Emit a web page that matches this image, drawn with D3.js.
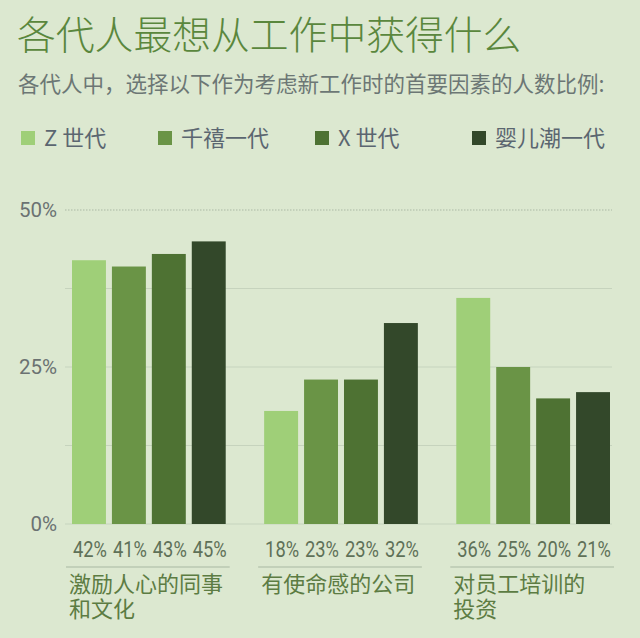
<!DOCTYPE html>
<html>
<head>
<meta charset="utf-8">
<script src="https://cdn.jsdelivr.net/npm/d3@7"></script>
<style>
  body { margin: 0; background: #dce8d0; }
  svg { display: block; font-family: "Noto Sans CJK SC", "Noto Sans", sans-serif; }
</style>
</head>
<body>
<svg id="chart" width="640" height="638"></svg>
<script>
// 数据
const categories = [["激励人心的同事", "和文化"], ["有使命感的公司"], ["对员工培训的", "投资"]];
const generations = ["Z 世代", "千禧一代", "X 世代", "婴儿潮一代"];
const genZ = [42, 18, 36];
const millennials = [41, 23, 25];
const genX = [43, 23, 20];
const boomers = [45, 32, 21];
const yTicks = [0, 25, 50];
const gridTicks = [0, 12.5, 25, 37.5, 50];

const seriesValues = [genZ, millennials, genX, boomers];
const colors = ["#9fcf78", "#6a9446", "#4e7233", "#33482a"];

const svg = d3.select("#chart");
svg.append("rect").attr("width", 640).attr("height", 638).attr("fill", "#dce8d0");

// 标题
svg.append("text")
  .attr("x", 17).attr("y", 49)
  .attr("font-size", 38.8)
  .attr("fill", "#5a873d")
  .attr("font-weight", 300)
  .text("各代人最想从工作中获得什么");

svg.append("text")
  .attr("x", 18).attr("y", 92)
  .attr("font-size", 21.5)
  .attr("fill", "#6c7775")
  .text("各代人中，选择以下作为考虑新工作时的首要因素的人数比例:");

// 图例
const legendX = [21, 158, 315, 472];
const legend = svg.append("g");
generations.forEach(function(g, i) {
  legend.append("rect")
    .attr("x", legendX[i]).attr("y", 131)
    .attr("width", 14).attr("height", 14)
    .attr("fill", colors[i]);
  legend.append("text")
    .attr("x", legendX[i] + 23).attr("y", 146)
    .attr("font-size", 22)
    .attr("fill", "#5b6670")
    .text(g);
});

// 坐标轴
const y = d3.scaleLinear().domain([0, 50]).range([524, 210]);

const catKeys = categories.map(d => d.join(""));
const x0 = d3.scaleBand().domain(catKeys).range([72, 610]).paddingInner(0.2);
const x1 = d3.scaleBand().domain(d3.range(generations.length)).range([0, x0.bandwidth()]).paddingInner(0.15);

const grid = svg.append("g");
gridTicks.forEach(function(t) {
  grid.append("line")
    .attr("x1", 65).attr("x2", 612)
    .attr("y1", y(t)).attr("y2", y(t))
    .attr("stroke", t === 50 ? "#aab8a4" : "#c6d3bd")
    .attr("stroke-width", t === 50 ? 1 : 1.2)
    .attr("stroke-dasharray", t === 50 ? "1.5,1.5" : null);
});

svg.append("g")
  .selectAll("text")
  .data(yTicks)
  .join("text")
  .attr("x", 57)
  .attr("y", d => y(d) + 2)
  .attr("text-anchor", "end")
  .attr("dominant-baseline", "middle")
  .attr("font-family", "Roboto, 'Liberation Sans', sans-serif")
  .attr("font-size", 20.5)
  .attr("fill", "#6b7272")
  .text(d => d + "%");

// 柱子
const bars = [];
catKeys.forEach(function(c, ci) {
  seriesValues.forEach(function(s, si) {
    bars.push({ cat: c, series: si, value: s[ci] });
  });
});

svg.append("g")
  .selectAll("rect")
  .data(bars)
  .join("rect")
  .attr("x", d => x0(d.cat) + x1(d.series))
  .attr("y", d => y(d.value))
  .attr("width", x1.bandwidth())
  .attr("height", d => y(0) - y(d.value))
  .attr("fill", d => colors[d.series]);

// 数值标签
svg.append("g")
  .selectAll("text")
  .data(bars)
  .join("text")
  .attr("x", d => x0(d.cat) + x1(d.series) + x1.bandwidth() / 2 + 1)
  .attr("y", 557)
  .attr("text-anchor", "middle")
  .attr("font-family", "'Liberation Sans Narrow', Roboto, sans-serif")
  .attr("font-size", 21.5)
  .attr("textLength", 34)
  .attr("lengthAdjust", "spacingAndGlyphs")
  .attr("fill", "#5f7158")
  .text(d => d.value + "%");

// 分隔线
svg.append("g")
  .selectAll("line")
  .data(catKeys)
  .join("line")
  .attr("x1", d => x0(d) - 6)
  .attr("x2", d => x0(d) + x0.bandwidth() + 4)
  .attr("y1", 567).attr("y2", 567)
  .attr("stroke", "#bac8b2")
  .attr("stroke-width", 1.5);

// 类别标签
const catLabels = svg.append("g");
categories.forEach(function(lines, i) {
  const t = catLabels.append("text")
    .attr("x", x0(catKeys[i]) - 3)
    .attr("y", 592)
    .attr("font-size", 22)
    .attr("fill", "#5c7c43");
  lines.forEach(function(line, li) {
    t.append("tspan")
      .attr("x", x0(catKeys[i]) - 3)
      .attr("dy", li === 0 ? 0 : 25)
      .text(line);
  });
});
</script>
</body>
</html>
